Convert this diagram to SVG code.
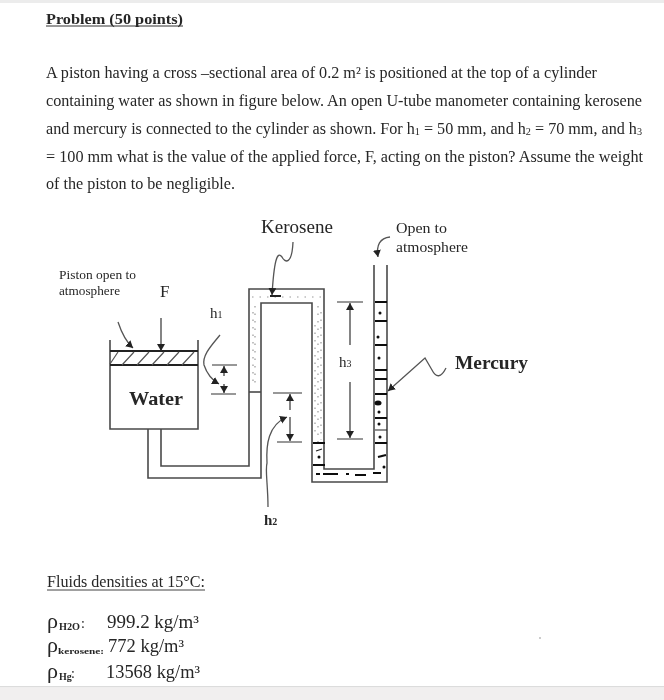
<svg xmlns="http://www.w3.org/2000/svg" width="664" height="700" viewBox="0 0 664 700">
<defs>
<marker id="arr" markerUnits="userSpaceOnUse" markerWidth="9" markerHeight="9" refX="7" refY="4" orient="auto-start-reverse"><path d="M0 0L7 4L0 8Z" fill="#222"/></marker>
<filter id="soft" x="0" y="0" width="100%" height="100%"><feGaussianBlur stdDeviation="0.35"/></filter>
</defs>
<style>
text{font-family:"Liberation Serif",serif;fill:#262626}
.b{font-size:15.8px}
.m{font-size:10px}
.l{fill:none;stroke:#4a4a4a;stroke-width:1.6}
.t{fill:none;stroke:#333;stroke-width:1.2}
.c{fill:none;stroke:#555;stroke-width:1.3}
.k{fill:none;stroke:#999;stroke-width:1.2;stroke-dasharray:1.5 6}
</style>
<rect width="664" height="700" fill="#fff"/>
<rect x="0" y="0" width="664" height="3" fill="#ececec"/>
<rect x="0" y="686" width="664" height="1.5" fill="#dcdcdc"/>
<rect x="0" y="687.5" width="664" height="12.5" fill="#f1efef"/>
<g filter="url(#soft)">
<g id="text-block">
<text x="46" y="24" font-size="15.5" font-weight="bold" textLength="137" lengthAdjust="spacingAndGlyphs">Problem (50 points)</text>
<path d="M46 26H183" stroke="#333" stroke-width="1"/>
<text class="b" x="46" y="78" textLength="551" lengthAdjust="spacingAndGlyphs">A piston having a cross –sectional area of 0.2 m² is positioned at the top of a cylinder</text>
<text class="b" x="46" y="106" textLength="596" lengthAdjust="spacingAndGlyphs">containing water as shown in figure below. An open U-tube manometer containing kerosene</text>
<text class="b" x="46" y="134" textLength="596" lengthAdjust="spacingAndGlyphs">and mercury is connected to the cylinder as shown. For h<tspan class="m" dy="1">1</tspan><tspan dy="-1"> = 50 mm, and h</tspan><tspan class="m" dy="1">2</tspan><tspan dy="-1"> = 70 mm, and h</tspan><tspan class="m" dy="1">3</tspan></text>
<text class="b" x="46" y="162" textLength="597" lengthAdjust="spacingAndGlyphs">= 100 mm what is the value of the applied force, F, acting on the piston? Assume the weight</text>
<text class="b" x="46" y="189" textLength="189" lengthAdjust="spacingAndGlyphs">of the piston to be negligible.</text>
</g>
<g id="piston-label"><text x="59" y="279" font-size="13" textLength="77" lengthAdjust="spacingAndGlyphs">Piston open to</text><text x="59" y="295" font-size="13" textLength="61" lengthAdjust="spacingAndGlyphs">atmosphere</text></g>
<g id="force-label"><text x="160" y="297" font-size="17">F</text></g>
<g id="cylinder">
<path class="l" d="M110 340V429H198V340"/>
<path d="M110 351H198M110 365H198" stroke="#222" stroke-width="2" fill="none"/>
<path d="M122 365L134 352M137 365L149 352M152 365L164 352M167 365L179 352M182 365L194 352M110 364L118 352" stroke="#555" stroke-width="1.2" fill="none"/>
<text x="156" y="405" font-size="19" font-weight="bold" text-anchor="middle" textLength="54" lengthAdjust="spacingAndGlyphs">Water</text>
</g>
<g id="h1-label"><text x="210" y="318" font-size="15">h<tspan font-size="10">1</tspan></text></g>
<g id="kerosene-label"><text x="261" y="233" font-size="19" textLength="72" lengthAdjust="spacingAndGlyphs">Kerosene</text></g>
<g id="open-label"><text x="396" y="233" font-size="15.5" textLength="51" lengthAdjust="spacingAndGlyphs">Open to</text><text x="396" y="252" font-size="15.5" textLength="72" lengthAdjust="spacingAndGlyphs">atmosphere</text></g>
<g id="h3-label"><text x="339" y="367" font-size="15">h<tspan font-size="10">3</tspan></text></g>
<g id="h2-label"><text x="264" y="525" font-size="15" font-weight="bold">h<tspan font-size="10">2</tspan></text></g>
<g id="mercury-label"><text x="455" y="369" font-size="19" font-weight="bold" textLength="73" lengthAdjust="spacingAndGlyphs">Mercury</text></g>
<g id="manometer">
<path class="l" d="M148 429V478H261V303H312V482H387V265M161 429V466H249V289H324V469H374V265"/>
<path class="l" d="M249 392H261"/>
<path class="k" d="M252 297H322M255 306V388M253 312V385M318 306V442M321 312V440M315 325V435"/>
<path d="M270 296H281" stroke="#222" stroke-width="2" fill="none"/>
<path d="M313 443H325M313 465H325M375 302H387M375 321H387M375 345H387M375 370H387M375 379H387M375 394H387M375 418H387M375 443H387M378 457L386 455M316 474H320M323 474H338M346 474H349M355 475H366M373 473H381" stroke="#111" stroke-width="2.2" fill="none"/>
<path d="M375 430H387M316 451L322 449" stroke="#222" stroke-width="1.2" fill="none"/>
<g fill="#111"><circle cx="380" cy="313" r="1.5"/><circle cx="378" cy="337" r="1.5"/><circle cx="379" cy="358" r="1.5"/><ellipse cx="378" cy="403" rx="3.5" ry="2.5"/><circle cx="379" cy="412" r="1.5"/><circle cx="379" cy="424" r="1.5"/><circle cx="380" cy="437" r="1.5"/><circle cx="319" cy="457" r="1.5"/><circle cx="384" cy="467" r="1.5"/></g>
</g>
<g id="connectors">
<path class="t" d="M161 318V351" marker-end="url(#arr)"/>
<path class="c" d="M118 322Q124 340 133 348" marker-end="url(#arr)"/>
<path class="c" d="M220 335C212 345 202 355 204 365C207 374 212 380 219 384" marker-end="url(#arr)"/>
<path class="t" d="M212 365H237M211 394H236"/>
<path class="t" d="M224 376V366" marker-end="url(#arr)"/><path class="t" d="M224 384V393" marker-end="url(#arr)"/>
<path class="t" d="M273 393H302M277 442H302"/>
<path class="t" d="M290 410V394" marker-end="url(#arr)"/><path class="t" d="M290 417V441" marker-end="url(#arr)"/>
<path class="t" d="M337 302H363M337 439H363"/>
<path class="t" d="M350 345V303" marker-end="url(#arr)"/><path class="t" d="M350 382V438" marker-end="url(#arr)"/>
<path class="c" d="M268 507C268 485 265 470 267 463C266 445 268 425 287 417" marker-end="url(#arr)"/>
<path class="c" d="M293 242C292 265 285 263 282 257C277 250 274 262 272 295" marker-end="url(#arr)"/>
<path class="c" d="M390 237C380 238 376 245 378 257" marker-end="url(#arr)"/>
<path class="c" d="M446 368C441 378 436 378 432 370L425 358L388 391" marker-end="url(#arr)"/>
</g>
<g id="densities">
<text x="47" y="587" font-size="16.5" textLength="158" lengthAdjust="spacingAndGlyphs">Fluids densities at 15°C:</text>
<path d="M47 590H205" stroke="#444" stroke-width="1"/>
<text x="47" y="628" font-size="22">ρ</text>
<text x="59" y="630" font-size="10" font-weight="bold" textLength="21" lengthAdjust="spacingAndGlyphs">H2O</text>
<text x="81" y="628" font-size="14">:</text>
<text x="107" y="628" font-size="18" textLength="92" lengthAdjust="spacingAndGlyphs">999.2 kg/m³</text>
<text x="47" y="652" font-size="22">ρ</text>
<text x="58" y="654" font-size="9" font-weight="bold" textLength="46" lengthAdjust="spacingAndGlyphs">kerosene:</text>
<text x="108" y="652" font-size="18" textLength="76" lengthAdjust="spacingAndGlyphs">772 kg/m³</text>
<text x="47" y="678" font-size="22">ρ</text>
<text x="59" y="680" font-size="10" font-weight="bold">Hg</text>
<text x="71" y="678" font-size="14">:</text>
<text x="106" y="678" font-size="18" textLength="94" lengthAdjust="spacingAndGlyphs">13568 kg/m³</text>
</g>
<circle cx="540" cy="638" r="1" fill="#bbb"/>
</g>
</svg>
